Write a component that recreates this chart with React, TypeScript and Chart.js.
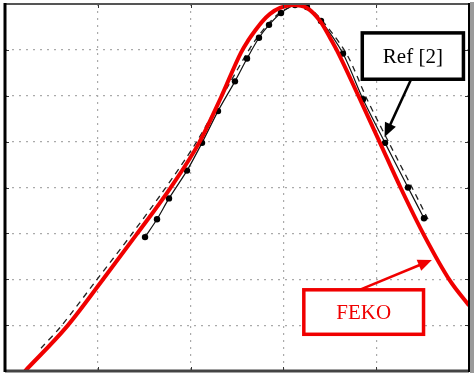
import React, { useEffect, useRef } from "react";
import { Chart, registerables } from "chart.js";

Chart.register(...registerables);

// Axis ranges (no tick labels shown in the reference)
const X_MIN = 0;
const X_MAX = 5;
const Y_MIN = 0;
const Y_MAX = 8;

// FEKO (thick red curve)
const fekoX = [0.216, 0.668, 1.045, 1.412, 1.778, 2.091, 2.328, 2.543, 2.619, 2.694, 2.769, 2.856, 2.963, 3.103, 3.254, 3.394, 3.502, 3.578, 3.815, 4.041, 4.267, 4.515, 4.795, 5.0];
const fekoY = [0.0, 0.973, 1.968, 2.962, 3.978, 4.973, 5.968, 6.941, 7.2, 7.416, 7.611, 7.784, 7.914, 7.978, 7.914, 7.632, 7.265, 6.984, 5.968, 4.973, 3.978, 2.962, 1.968, 1.427];

// Ref [2] (thin black line with dot markers)
const refX = [1.509, 1.638, 1.767, 1.961, 2.123, 2.295, 2.478, 2.608, 2.737, 2.845, 2.974, 3.125, 3.254, 3.405, 3.642, 3.858, 4.095, 4.343, 4.515];
const refY = [2.919, 3.308, 3.762, 4.368, 4.973, 5.665, 6.314, 6.811, 7.265, 7.546, 7.805, 7.978, 7.935, 7.632, 6.919, 5.924, 4.973, 4.0, 3.33];

// Dashed black companion curve
const dashX = [0.388, 0.603, 0.981, 1.358, 1.703, 2.058, 2.414, 2.694, 2.942, 3.125, 3.287, 3.438, 3.685, 3.901, 4.138, 4.386, 4.558];
const dashY = [0.497, 0.973, 1.968, 2.962, 3.914, 4.973, 6.249, 7.2, 7.784, 7.957, 7.892, 7.589, 6.897, 5.924, 4.973, 4.0, 3.308];

// Callout labels (box corners and arrow ends in data units)
const calloutLabels = ["Ref [2]", "FEKO"];
const calloutColors = ["#000000", "#f00000"];
const calloutBoxes = [
  [3.85, 7.37, 4.94, 6.36],
  [3.22, 1.77, 4.51, 0.8],
];
const calloutArrows = [
  [4.39, 6.42, 4.09, 5.1],
  [3.82, 1.77, 4.6, 2.42],
];

const toPts = (xs: number[], ys: number[]) => xs.map((x, i) => ({ x, y: ys[i] }));

const framePlugin = {
  id: "frameAndCallouts",
  afterDraw(chart: any) {
    const { ctx, chartArea: a, scales } = chart;
    const xs = scales.x;
    const ys = scales.y;
    ctx.save();
    // inward tick marks
    ctx.strokeStyle = "#333";
    ctx.lineWidth = 1;
    ctx.setLineDash([]);
    for (let v = X_MIN + 1; v < X_MAX; v++) {
      const px = Math.round(xs.getPixelForValue(v)) + 0.5;
      ctx.beginPath();
      ctx.moveTo(px, a.bottom);
      ctx.lineTo(px, a.bottom - 4);
      ctx.moveTo(px, a.top);
      ctx.lineTo(px, a.top + 4);
      ctx.stroke();
    }
    for (let v = Y_MIN + 1; v < Y_MAX; v++) {
      const py = Math.round(ys.getPixelForValue(v)) + 0.5;
      ctx.beginPath();
      ctx.moveTo(a.left, py);
      ctx.lineTo(a.left + 4, py);
      ctx.moveTo(a.right, py);
      ctx.lineTo(a.right - 4, py);
      ctx.stroke();
    }
    // frame
    ctx.lineWidth = 2;
    ctx.strokeStyle = "#555";
    ctx.beginPath();
    ctx.moveTo(a.left, a.top);
    ctx.lineTo(a.right, a.top);
    ctx.stroke();
    ctx.lineWidth = 3;
    ctx.strokeStyle = "#444";
    ctx.beginPath();
    ctx.moveTo(a.left, a.bottom);
    ctx.lineTo(a.right, a.bottom);
    ctx.stroke();
    ctx.strokeStyle = "#000";
    ctx.beginPath();
    ctx.moveTo(a.left, a.top - 1);
    ctx.lineTo(a.left, a.bottom + 1);
    ctx.stroke();
    ctx.lineWidth = 2;
    ctx.beginPath();
    ctx.moveTo(a.right, a.top - 1);
    ctx.lineTo(a.right, a.bottom + 1);
    ctx.stroke();
    ctx.fillStyle = "#9a9a9a";
    ctx.fillRect(a.right + 1, a.top - 2, chart.width - a.right - 1, a.bottom - a.top + 4);

    // callouts
    calloutLabels.forEach((label, i) => {
      const color = calloutColors[i];
      const [bx0, by0, bx1, by1] = calloutBoxes[i];
      const x0 = xs.getPixelForValue(bx0);
      const x1 = xs.getPixelForValue(bx1);
      const y0 = ys.getPixelForValue(by0);
      const y1 = ys.getPixelForValue(by1);
      const [ax0, ay0, ax1, ay1] = calloutArrows[i];
      const sx = xs.getPixelForValue(ax0);
      const sy = ys.getPixelForValue(ay0);
      const ex = xs.getPixelForValue(ax1);
      const ey = ys.getPixelForValue(ay1);
      const ang = Math.atan2(ey - sy, ex - sx);
      const headLen = 14;
      const headW = 6;
      ctx.strokeStyle = color;
      ctx.fillStyle = color;
      ctx.lineWidth = 2.5;
      ctx.beginPath();
      ctx.moveTo(sx, sy);
      ctx.lineTo(ex - Math.cos(ang) * headLen * 0.8, ey - Math.sin(ang) * headLen * 0.8);
      ctx.stroke();
      ctx.beginPath();
      ctx.moveTo(ex, ey);
      ctx.lineTo(ex - Math.cos(ang) * headLen - Math.sin(ang) * headW, ey - Math.sin(ang) * headLen + Math.cos(ang) * headW);
      ctx.lineTo(ex - Math.cos(ang) * headLen + Math.sin(ang) * headW, ey - Math.sin(ang) * headLen - Math.cos(ang) * headW);
      ctx.closePath();
      ctx.fill();
      ctx.fillStyle = "#ffffff";
      ctx.fillRect(x0, y0, x1 - x0, y1 - y0);
      ctx.lineWidth = 3.5;
      ctx.strokeStyle = color;
      ctx.strokeRect(x0, y0, x1 - x0, y1 - y0);
      ctx.fillStyle = color;
      ctx.font = '21px "Liberation Serif", "DejaVu Serif", serif';
      ctx.textAlign = "center";
      ctx.textBaseline = "middle";
      ctx.fillText(label, (x0 + x1) / 2, (y0 + y1) / 2 + 1);
    });
    ctx.restore();
  },
};

export default function App() {
  const ref = useRef<HTMLCanvasElement | null>(null);
  useEffect(() => {
    if (!ref.current) return;
    const chart = new Chart(ref.current, {
      type: "scatter",
      data: {
        datasets: [
          {
            label: "FEKO",
            data: toPts(fekoX, fekoY),
            showLine: true,
            borderColor: "#f00000",
            backgroundColor: "#f00000",
            borderWidth: 4,
            pointRadius: 0,
            cubicInterpolationMode: "monotone",
          },
          {
            label: "Ref [2]",
            data: toPts(refX, refY),
            showLine: true,
            borderColor: "#111",
            backgroundColor: "#000",
            borderWidth: 1.2,
            pointRadius: 3.2,
            pointBorderWidth: 0,
            tension: 0.25,
          },
          {
            label: "dashed",
            data: toPts(dashX, dashY),
            showLine: true,
            borderColor: "#222",
            borderWidth: 1.3,
            borderDash: [6, 5],
            pointRadius: 0,
            tension: 0.3,
          },
        ],
      } as any,
      options: {
        animation: false,
        responsive: false,
        maintainAspectRatio: false,
        layout: { padding: { left: 5, top: 3, right: 5, bottom: 2 } },
        plugins: { legend: { display: false }, tooltip: { enabled: false } },
        scales: {
          x: {
            type: "linear",
            min: X_MIN,
            max: X_MAX,
            ticks: { display: false, stepSize: 1 },
            grid: { color: "#aaaaaa", lineWidth: 1.2, drawTicks: false },
            border: { display: false, dash: [2, 5] },
          },
          y: {
            type: "linear",
            min: Y_MIN,
            max: Y_MAX,
            ticks: { display: false, stepSize: 1 },
            grid: { color: "#aaaaaa", lineWidth: 1.2, drawTicks: false },
            border: { display: false, dash: [2, 5] },
          },
        },
      } as any,
      plugins: [framePlugin],
    });
    return () => chart.destroy();
  }, []);
  return (
    <div style={{ position: "fixed", left: 0, top: 0, width: 474, height: 375, background: "#fff" }}>
      <canvas ref={ref} width={474} height={375} style={{ display: "block" }} />
    </div>
  );
}
